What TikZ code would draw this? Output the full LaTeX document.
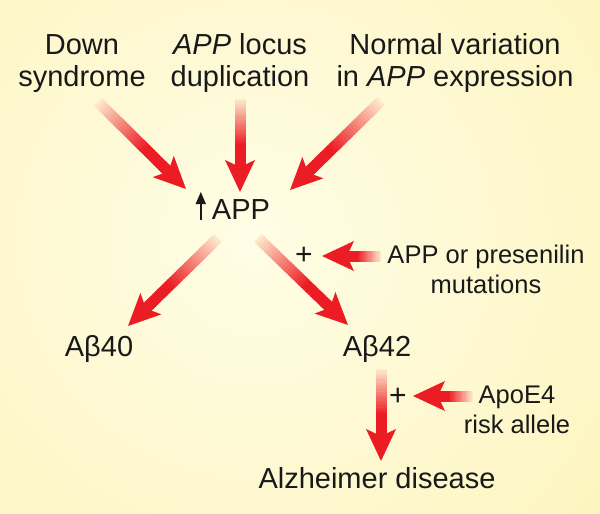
\documentclass[tikz,border=0pt]{standalone}
\usepackage{fontspec}
\setmainfont{Liberation Sans}
\usetikzlibrary{calc,arrows.meta}
\definecolor{bgin}{RGB}{255,253,230}
\definecolor{bgout}{RGB}{250,237,155}
\definecolor{arrred}{RGB}{236,28,36}
\definecolor{peach}{RGB}{253,236,205}
\definecolor{ink}{RGB}{25,25,25}
\newcommand{\gradarrow}[2]{%
  \coordinate (ga-e) at ($(#2)!24pt!(#1)$);
  \foreach \i in {0,...,29}{%
    \pgfmathtruncatemacro\gp{min(100,2+\i*5)}%
    \pgfmathsetmacro\ga{\i/30}%
    \pgfmathsetmacro\gb{min(1,(\i+1.6)/30)}%
    \draw[shaft, arrred!\gp!peach] ($(#1)!\ga!(ga-e)$) -- ($(#1)!\gb!(ga-e)$);
  }
  \coordinate (ga-c) at ($(#2)!32pt!(#1)$);
  \fill[arrred] (#2) -- ($(ga-c)!15pt!90:(#2)$) -- ($(#2)!25pt!(#1)$) -- ($(ga-c)!15pt!-90:(#2)$) -- cycle;
}
\begin{document}
\begin{tikzpicture}[x=1pt,y=-1pt,
  shaft/.style={line width=11pt, line cap=butt},
  big/.style={font=\fontsize{29}{32}\selectfont, inner sep=0pt, align=center, text=ink, anchor=base},
  small/.style={font=\fontsize{25.5}{29.5}\selectfont, inner sep=0pt, align=center, text=ink, anchor=base},
  plus/.style={font=\fontsize{30}{32}\selectfont, inner sep=0pt, text=ink, anchor=center}]
\useasboundingbox (0,0) rectangle (600,514);
% background
\begin{scope}
\clip (0,0) rectangle (600,514);
\fill[bgout] (0,0) rectangle (600,514);
\shade[inner color=bgin, outer color=bgout] (255,240) circle (860);
\end{scope}
% text nodes (base = baseline of last line)
\node[big] (ds) at (82,86) {Down\\syndrome};
\node[big] (al) at (240,86) {\textit{APP} locus\\duplication};
\node[big] (nv) at (455,86) {Normal variation\\in \textit{APP} expression};
\node[big] (app) at (241,219) {APP};
\node[big] (a40) at (99,356) {Aβ40};
\node[big] (a42) at (377,356) {Aβ42};
\node[big] (ad) at (377,488) {Alzheimer disease};
\node[small] (pm) at (486,293) {APP or presenilin\\mutations};
\node[small] (apoe) at (517,433) {ApoE4\\risk allele};
\node[plus] (p1) at (304,256) {+};
\node[plus] (p2) at (398,397) {+};
% up arrow in the APP label
\coordinate (upb) at ($(app.base west)+(-11,1)$);
\coordinate (upt) at ($(app.base west)+(-11,-27)$);
\draw[ink, line width=1.6pt, -{Triangle[length=12pt,width=10pt]}] (upb) -- (upt);
% connector end points
\coordinate (t1) at (98,102);  \coordinate (h1) at (186,189);
\coordinate (t2) at (240,99);  \coordinate (h2) at (240,192);
\coordinate (t3) at (381,101); \coordinate (h3) at (290,190);
\coordinate (t4) at (218,238); \coordinate (h4) at (128,326);
\coordinate (t5) at (258,238); \coordinate (h5) at (348,325);
\coordinate (t6) at (381,256); \coordinate (h6) at (322,256);
\coordinate (t7) at (381,369); \coordinate (h7) at (381,461);
\coordinate (t8) at (473,396); \coordinate (h8) at (413,396);
\gradarrow{t1}{h1}
\gradarrow{t2}{h2}
\gradarrow{t3}{h3}
\gradarrow{t4}{h4}
\gradarrow{t5}{h5}
\gradarrow{t6}{h6}
\gradarrow{t7}{h7}
\gradarrow{t8}{h8}
\end{tikzpicture}
\end{document}
